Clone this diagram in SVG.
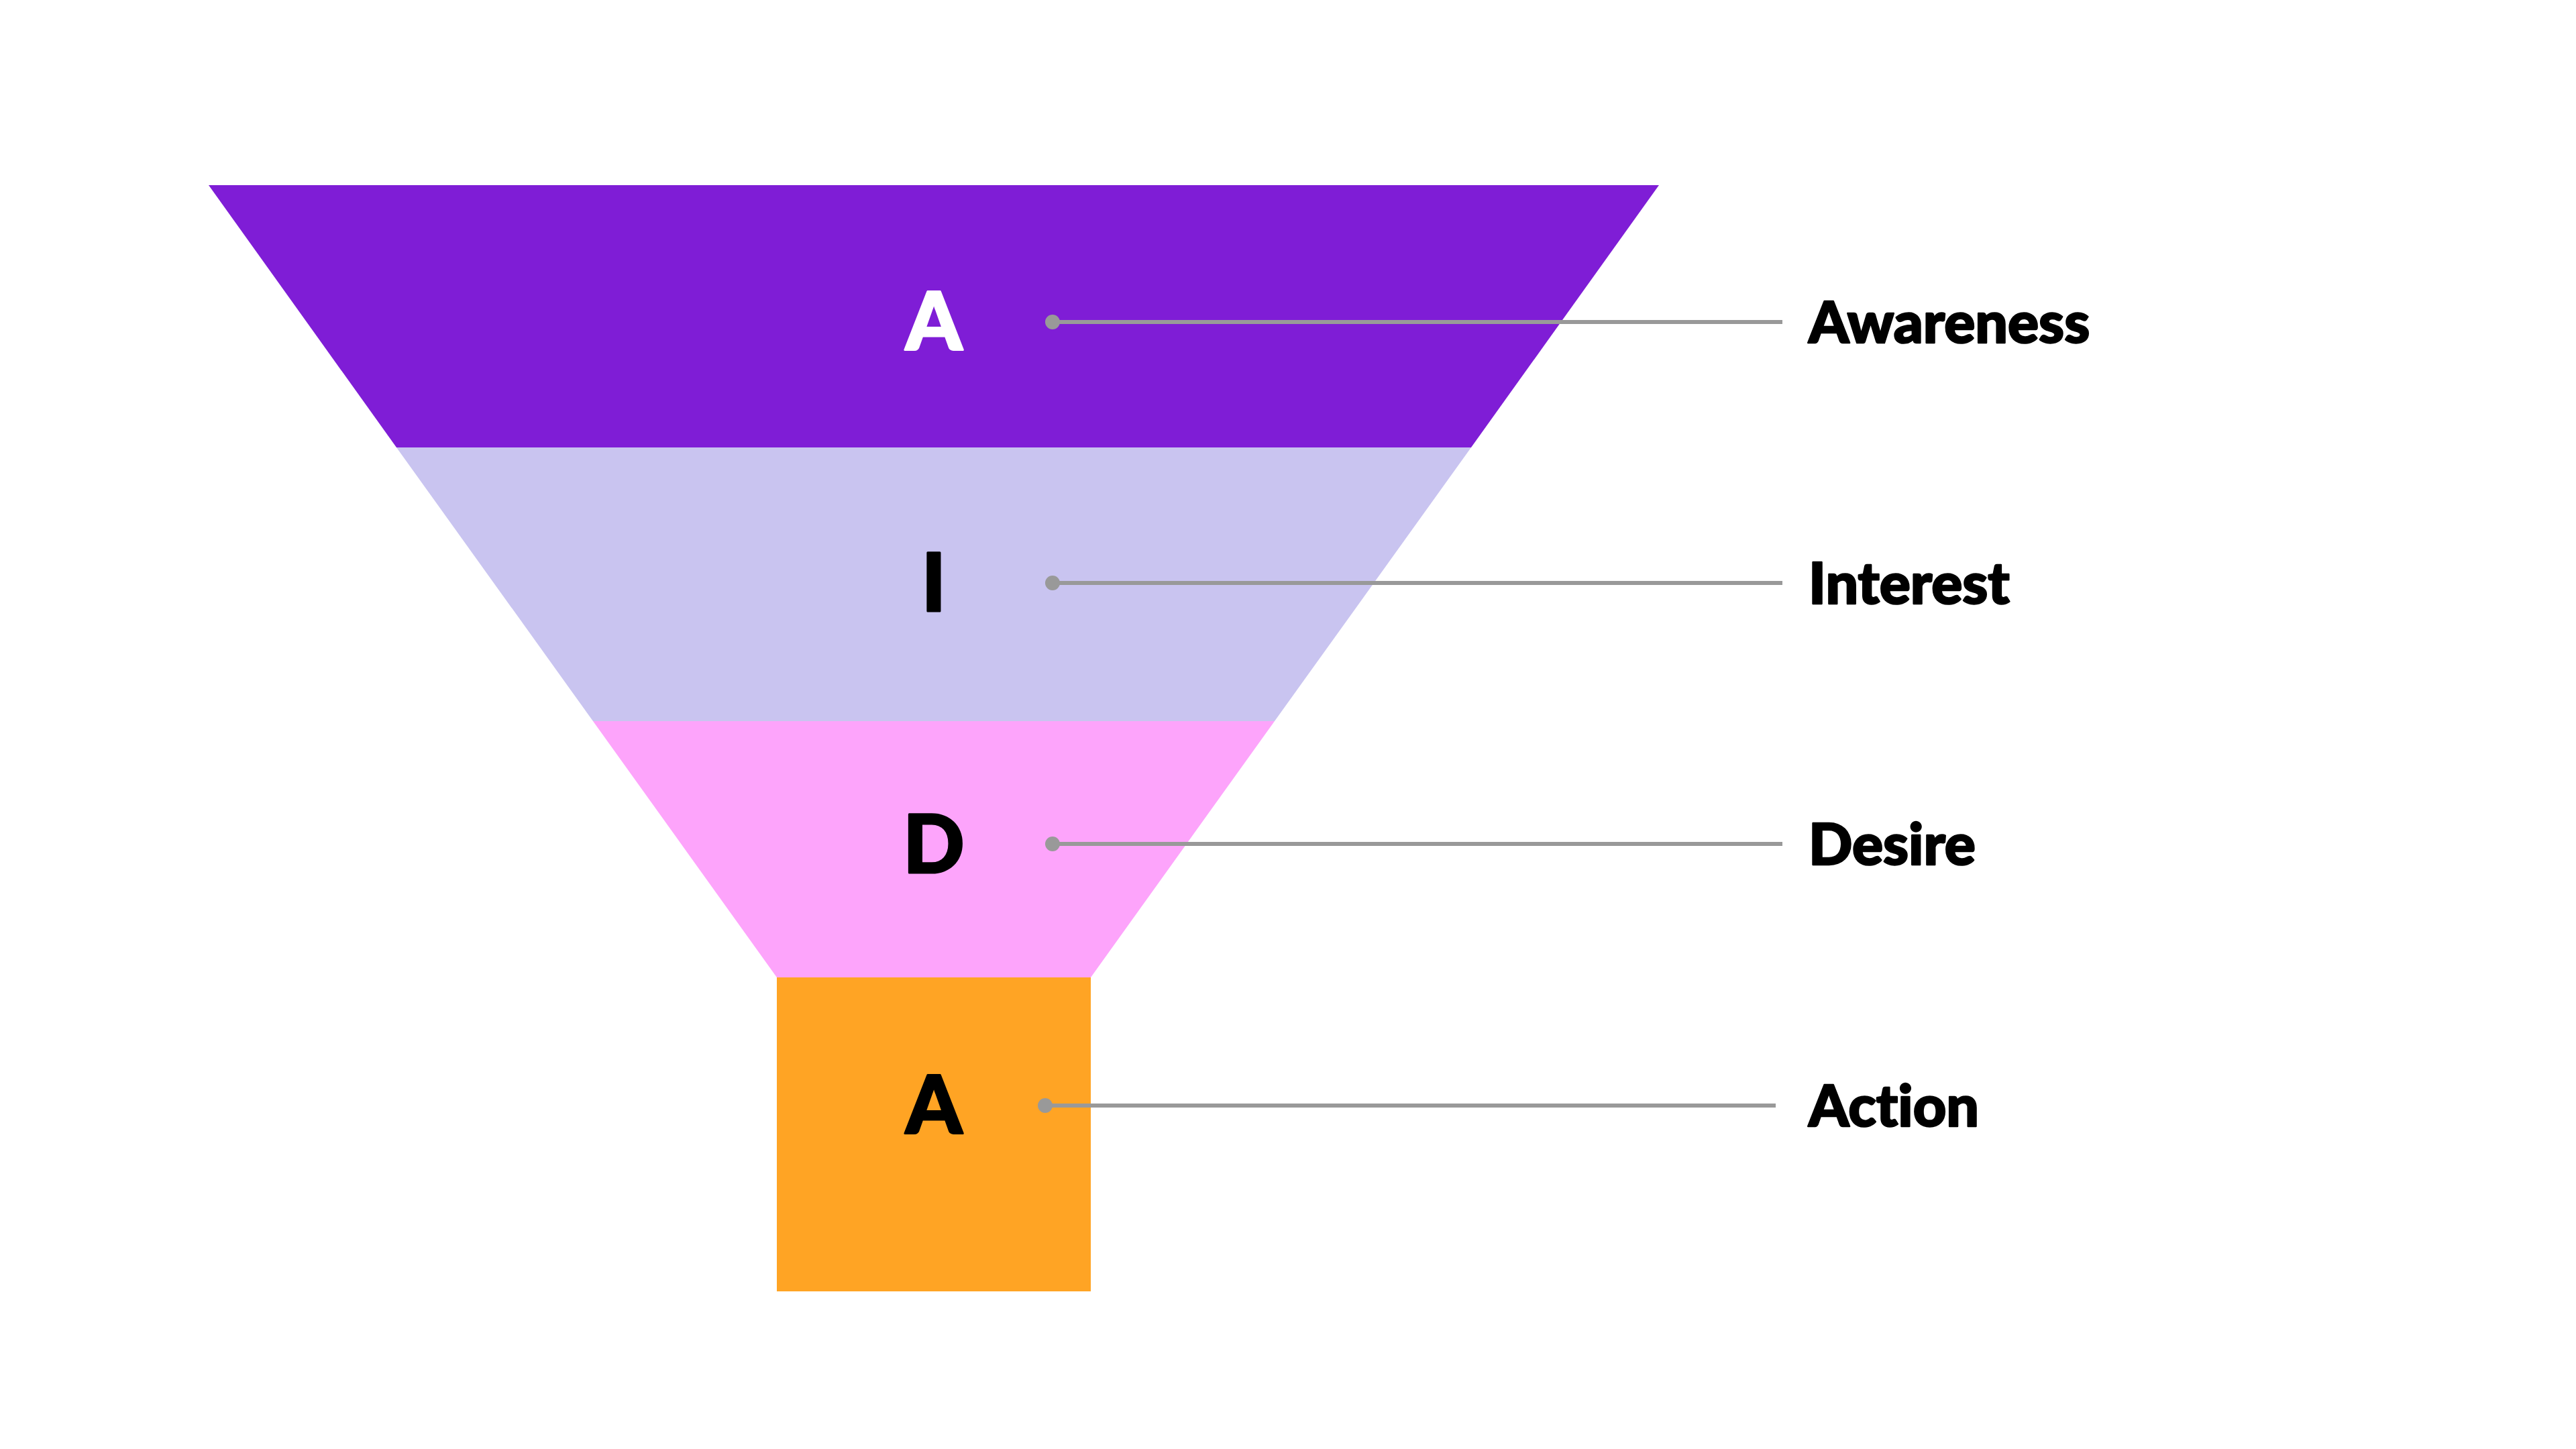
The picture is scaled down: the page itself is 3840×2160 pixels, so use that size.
<svg xmlns="http://www.w3.org/2000/svg" width="3840" height="2160" viewBox="0 0 3840 2160">
<style>
.big{font-family:Lato,"Liberation Sans",sans-serif;font-weight:900;font-size:120px;text-anchor:middle;font-variant-ligatures:none;stroke-width:3;stroke-linejoin:round}
.lbl{font-family:Lato,"Liberation Sans",sans-serif;font-weight:900;font-size:86px;fill:#000;stroke:#000;stroke-width:2.5;stroke-linejoin:round;font-variant-ligatures:none}
.con line{stroke:#999999;stroke-width:6}
.con circle{fill:#999999}
</style>
<rect width="3840" height="2160" fill="#ffffff"/>
<g id="awareness">
<polygon points="311,276 2473,276 2193,667 591,667" fill="#7F1DD6"/>
<text class="big" x="1392" y="522" fill="#ffffff" stroke="#ffffff">A</text>
<text class="lbl" x="2696" y="511">Awareness</text>
</g>
<g id="interest">
<polygon points="591,667 2193,667 1900,1075 884,1075" fill="#C9C4F0"/>
<text class="big" x="1392" y="911" fill="#000000" stroke="#000000">I</text>
<text class="lbl" x="2696" y="900">Interest</text>
</g>
<g id="desire">
<polygon points="884,1075 1900,1075 1626,1457 1158,1457" fill="#FDA4FB"/>
<text class="big" x="1392" y="1301" fill="#000000" stroke="#000000">D</text>
<text class="lbl" x="2696" y="1289">Desire</text>
</g>
<g id="action">
<rect x="1158" y="1457" width="468" height="468" fill="#FFA424"/>
<text class="big" x="1392" y="1690" fill="#000000" stroke="#000000">A</text>
<text class="lbl" x="2696" y="1679">Action</text>
</g>
<g class="con" id="connectors">
<line x1="1569" y1="480" x2="2657" y2="480"/><circle cx="1569" cy="480" r="11"/>
<line x1="1569" y1="869" x2="2657" y2="869"/><circle cx="1569" cy="869" r="11"/>
<line x1="1569" y1="1258" x2="2657" y2="1258"/><circle cx="1569" cy="1258" r="11"/>
<line x1="1558" y1="1648" x2="2647" y2="1648"/><circle cx="1558" cy="1648" r="11"/>
</g>
</svg>
